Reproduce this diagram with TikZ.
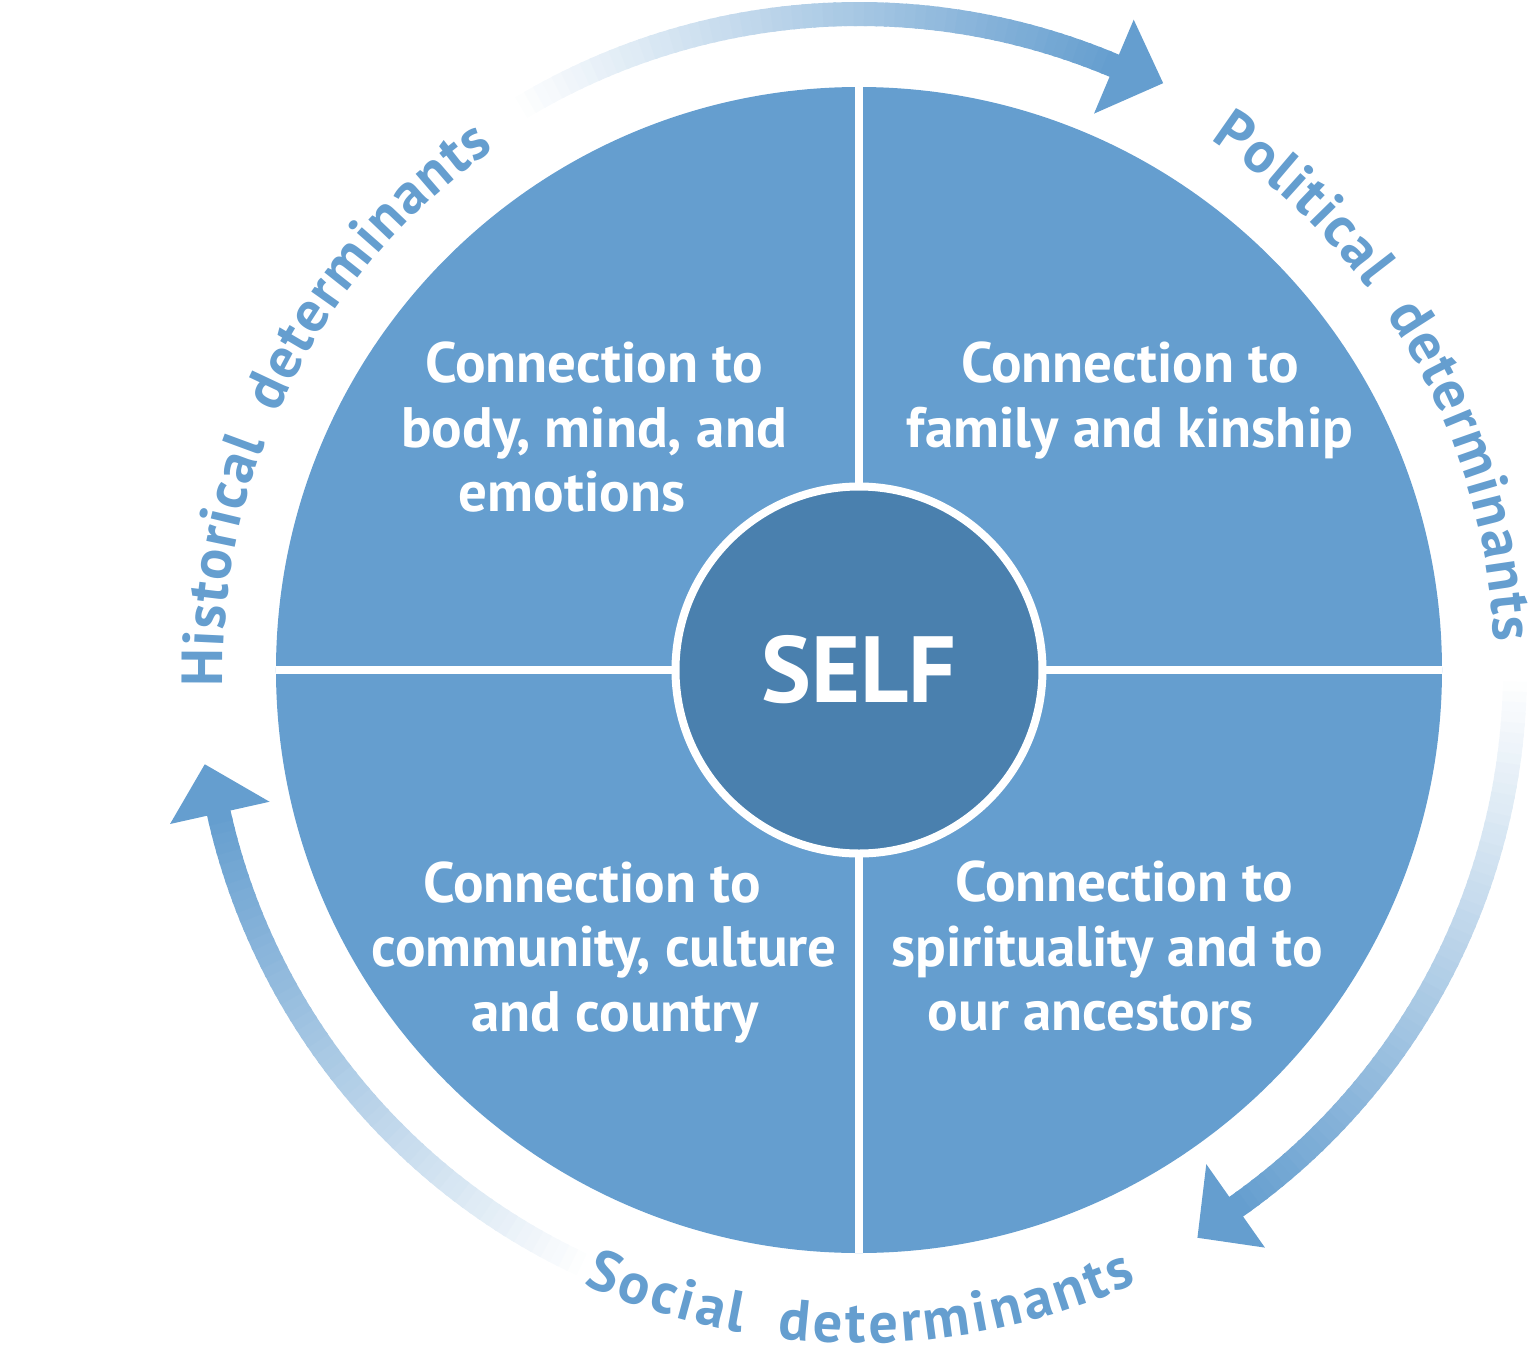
\documentclass[tikz,border=0pt]{standalone}
\usepackage{fontspec}
\setmainfont{PT Sans}
\usetikzlibrary{decorations.text}
\definecolor{wheelblue}{HTML}{659ECF}
\definecolor{selfblue}{HTML}{4A80AE}
\newcommand\arcfont{\fontsize{29}{33}\selectfont\bfseries}
\tikzset{
  quadtext/.style={text=white, font=\fontsize{28.5}{32.25}\selectfont\bfseries, align=center, inner sep=0pt},
  arctext/.style={decorate, decoration={text along path, text align=fit to path,
    text color=wheelblue, text={|\arcfont|#1}}},
}
\begin{document}
\begin{tikzpicture}[x=0.5pt,y=0.5pt]
  \useasboundingbox (-859,-697) rectangle (677,670);
  % the wheel and its four quarters
  \fill[wheelblue] (0,0) circle (583);
  \draw[white,line width=4pt] (0,-583) -- (0,583) (-583,0) -- (583,0);
  \node[circle, fill=selfblue, draw=white, line width=4pt, minimum size=183.5pt, inner sep=0pt,
    text=white, font=\fontsize{47}{50}\selectfont\bfseries] (self) at (0,0) {SELF};
  \node[quadtext] (body) at (-265,242.5) {Connection to\\body, mind, and\\emotions\hspace*{22pt}};
  \node[quadtext] (family) at (271,269.5) {Connection to\\family and kinship};
  \node[quadtext] (community) at (-255,-282) {Connection to\hspace*{12pt}\\community, culture\\\hspace*{11pt}and country};
  \node[quadtext] (spirit) at (248,-276.5) {\hspace*{17pt}Connection to\\spirituality and to\\our ancestors\hspace*{16pt}};
  % fading arrows round the wheel
  \foreach \first/\base/\tip in {121/67.1/62.6, -1/-54.9/-59.2, -115/-167.4/-171.8} {
    \foreach \i in {0,...,59} {
      \pgfmathsetmacro\from{\first+(\base-\first)*\i/60}
      \pgfmathsetmacro\to{\first+(\base-\first)*(\i+1.3)/60}
      \pgfmathtruncatemacro\shade{100*(\i+1)/60}
      \draw[wheelblue!\shade!white, line width=12pt] (\from:656) arc[start angle=\from, end angle=\to, radius=656];
    }
    \fill[wheelblue] (\base:604) -- (\tip:661) -- (\base:706) -- cycle;
  }
  % determinants
  \path[arctext={Historical{\hspace{6pt}} determinants}] (181.5:636) arc[start angle=181.5, end angle=125, radius=636];
  \path[arctext={Political{\hspace{6pt}} determinants}] (56.5:636) arc[start angle=56.5, end angle=2.6, radius=636];
  \path[arctext={Social{\hspace{6pt}} determinants}] (-114.2:673) arc[start angle=-114.2, end angle=-65.6, radius=673];
\end{tikzpicture}
\end{document}
